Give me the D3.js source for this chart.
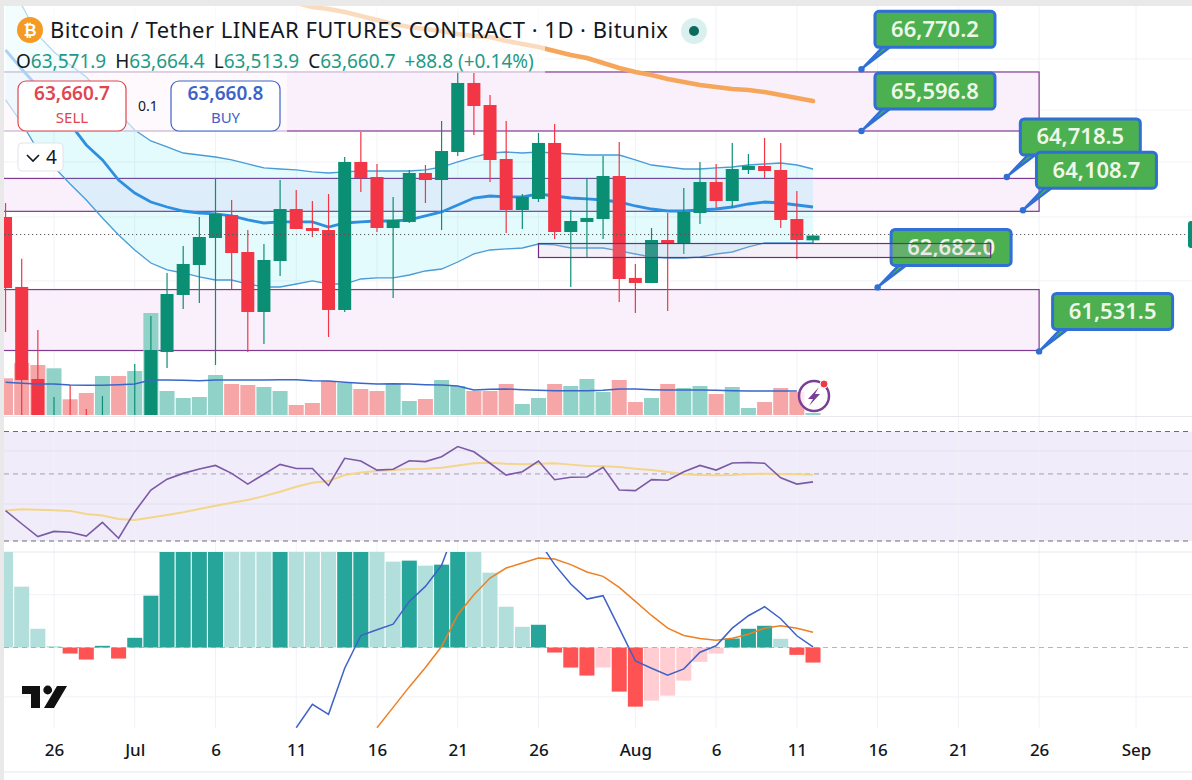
<!DOCTYPE html>
<html>
<head>
<meta charset="utf-8">
<script src="https://cdn.jsdelivr.net/npm/d3@7"></script>
<style>
html, body { margin: 0; padding: 0; background: #fff; overflow: hidden; }
text { font-family: "Noto Sans", sans-serif; }
</style>
</head>
<body>
<div id="chart"></div>
<script>
// one entry per day, 23 Jun to 12 Aug
var firstDay = '2025-06-23', lastDay = '2025-08-12';

var open = [64004,62708,61004,59000,59600,59800,59400,60000,
  59700,60100,61504,62560,63115,63615,64041,63356,62245,63189,64152,63800,63763,62282,65023,64745,63800,63912,64819,64689,65208,66486,66078,65078,64134,64338,65375,63726,63912,63967,64763,
  62875,62782,63578,63504,64078,64652,64300,64875,64949,64875,63967,63571.9];
var high = [64263,63232,61911,60671,60893,60448,60689,60100,
  61282,62171,62967,63467,64004,64726,64319,63763,63504,64689,64504,64300,64430,65115,65578,64986,64375,64875,64967,65782,66689,66671,66264,65782,64430,65560,65727,64134,64726,65134,65393,
  63134,63800,64078,64541,65023,64986,65375,65171,65467,65375,64486,63664.4];
var low = [61874,60000,59500,58500,58800,59000,59000,59300,
  59400,59900,61208,62300,62411,61263,62671,61504,61652,62911,63782,63634,61782,62245,64467,63726,62504,63893,64263,63763,65134,65523,64652,63708,63782,64282,63597,62708,63263,63597,62430,
  62226,62782,62263,63319,63875,64171,64171,64801,64726,63800,63226,63513.9];
var close = [62689,60986,60000,59300,59300,59500,60000,59700,
  60100,61541,62578,63134,63634,64060,63337,62245,63208,64152,63782,63745,62282,65023,64726,63800,63949,64819,64689,65226,66486,66060,65060,64134,64375,65375,63726,63930,63986,64763,62856,
  62782,63578,63504,64097,64652,64300,64893,64949,64856,63949,63578,63660.7];

var volume = [3670,5200,5000,4670,1570,2200,3900,3900,
  4400,10200,2400,1700,1800,4000,3100,3000,2800,2400,1000,1200,3400,3200,2600,2400,3100,1400,1600,3500,2900,2400,2400,3100,1100,1700,3100,2900,3600,2300,3500,
  1300,1700,3100,2700,2900,2100,2800,700,1300,2700,2300,200];
var volumeMa = [3267,3167,3100,3100,3000,2967,2967,3033,
  3100,3500,3500,3467,3433,3500,3500,3500,3500,3533,3533,3433,3400,3267,3167,3100,3133,3100,3033,3000,2900,2500,2567,2600,2533,2467,2433,2433,2433,2467,2600,
  2600,2533,2500,2500,2500,2467,2433,2400,2400,2400,2400];

var bandUpper = [68449,67930,67375,67060,66819,66597,66264,65930,
  65615,65412,65301,65189,65152,65115,65060,64986,64912,64893,64875,64838,64819,64838,64856,64856,64856,64856,64875,64930,65023,65115,65189,65208,65189,65208,65189,65171,65152,65152,65152,
  65060,64967,64930,64893,64893,64912,64930,64967,64986,65004,64967,64893];
var bandBasis = [67097,66745,66412,66060,65727,65338,65060,64689,
  64449,64282,64189,64115,64078,64060,64023,63949,63893,63912,63912,63912,63819,63893,63912,63930,63930,63949,64023,64097,64226,64356,64393,64375,64375,64430,64393,64356,64338,64319,64282,
  64208,64152,64115,64115,64134,64152,64189,64245,64282,64263,64226,64189];
var bandLower = [66171,65745,65245,64930,64615,64319,63986,63671,
  63393,63152,63023,62967,62893,62837,62837,62763,62708,62708,62763,62819,62763,62763,62856,62875,62875,62930,63004,63041,63171,63319,63393,63412,63430,63504,63486,63430,63430,63430,63375,
  63319,63263,63245,63245,63263,63319,63356,63449,63523,63523,63523,63523];

// long average only shows from 11 Jul
var slowMa = [67967,67893,67856,67801,67727,67653,67578,67523,67486,67449,67393,67356,67338,67264,67208,67153,67078,67004,66949,66856,66764,
  66690,66634,66560,66504,66449,66412,66375,66356,66319,66264,66208,66153];

var rsi = [41.1,36.3,31.6,33.5,33.2,31.8,36.8,31.0,
  40.7,48.6,52.6,54.7,56.3,57.6,54.7,50.8,54.4,58.0,56.5,56.5,50.3,60.2,59.2,55.9,56.2,59.3,59.0,60.8,64.5,62.6,58.4,54.1,55.3,59.2,52.4,53.3,53.4,56.9,48.6,
  48.4,52.4,52.2,55.3,57.6,55.9,58.5,58.7,58.4,53.1,50.8,51.6];
var rsiMa = [41.1,41.6,41.4,41.2,41.0,39.9,39.3,38.0,
  37.7,38.6,39.5,40.5,41.7,42.9,44.0,45.0,46.4,48.0,49.8,51.3,51.9,54.1,55.0,55.6,55.9,56.3,56.4,56.8,57.6,58.4,58.6,58.2,58.0,58.2,58.4,57.9,57.4,57.3,57.0,
  56.4,55.9,55.2,54.4,54.1,54.0,54.1,54.5,54.6,54.5,54.4,54.2];
var rsiLevels = [70, 54.5, 30];

var macdHist = [110,60.7,18.7,1.3,-6,-12,1.7,-11,
  9.7,51.7,110,125,135,145,140,125,110,118,115,105,98,102,110,100,85.7,86.7,81.7,82.7,96,95.5,74.7,40.7,20.7,22.7,-5,-20,-28,-20,-44,
  -59,-53,-48,-33,-14.3,-6,9,18.7,21.7,8.7,-7.3,-15];
// macd line from 11 Jul, signal line from 16 Jul
var macdLine = [-80,-56.7,-66.7,-20.7,12,17.7,23.3,46,61,82,125,150,145,135,120,107,82.7,63.3,48.3,51.7,19.3,
  -13.3,-20.7,-27.7,-21.3,-4.7,1.7,19.3,31.7,40.7,28.7,11.7,0.7];
var macdSignal = [-80,-59.7,-39.3,-20,1,32.7,52.7,69.3,79.3,84.3,89.3,88.3,82.7,75.3,71,60,
  46,32,19.3,12,9,7.3,9.3,13.3,19.3,21.7,19.3,15.3];

// x axis
var tickDays = ['2025-06-26','2025-07-01','2025-07-06','2025-07-11','2025-07-16','2025-07-21','2025-07-26','2025-08-01','2025-08-06','2025-08-11','2025-08-16','2025-08-21','2025-08-26','2025-09-01'];
var tickLabels = ['26','Jul','6','11','16','21','26','Aug','6','11','16','21','26','Sep'];

// supply and demand boxes, price low / high as they sit on the picture
var zoneLow = [65596.8, 64108.7, 61531.5];
var zoneHigh = [66690, 64718.5, 62660];
var smallZone = [63254, 63513];
var smallZoneDays = ['2025-07-26', '2025-08-23'];
var zoneEndDay = '2025-08-26';

var calloutPrices = [66740, 65596.8, 64745, 64130, 62700, 61515];
var calloutDays = ['2025-08-15','2025-08-15','2025-08-24','2025-08-25','2025-08-16','2025-08-26'];
var calloutLabels = ['66,770.2','65,596.8','64,718.5','64,108.7','62,682.0','61,531.5'];

var priceGrid = [66930, 65985, 65025, 64005, 62820];
var rsiGrid = [62.9, 43.5];
var macdGrid = [52.7, -49.3];

var w = 1192, h = 780,
    left = 4,
    upColor = '#0b8f74',
    downColor = '#f23645',
    font = '"Noto Sans", sans-serif';

var parse = d3.utcParse('%Y-%m-%d');
var days = d3.utcDay.range(parse(firstDay), d3.utcDay.offset(parse(lastDay), 1));
var idx = d3.range(days.length);

var x = d3.scaleUtc().domain([parse('2025-06-26'), parse('2025-09-01')]).range([54, 1136]);
var y = d3.scaleLinear().domain([61531.5, 65596.8]).range([350.5, 131]);
var yVol = d3.scaleLinear().domain([0, 10200]).range([415, 313]);
var yRsi = d3.scaleLinear().domain([30, 70]).range([541, 431.5]);
var yMacd = d3.scaleLinear().domain([-80, 95.3]).range([727.7, 552]);

var svg = d3.select('#chart').append('svg')
    .attr('width', w)
    .attr('height', h)
    .style('display', 'block');

// clip areas for the panes
var defs = svg.append('defs');
defs.append('clipPath').attr('id', 'mainClip').append('rect')
    .attr('x', left).attr('y', 6).attr('width', w - left).attr('height', 409);
defs.append('clipPath').attr('id', 'macdClip').append('rect')
    .attr('x', left).attr('y', 552).attr('width', w - left).attr('height', 176);

// window frame
svg.append('rect').attr('width', w).attr('height', 6).attr('fill', '#e9e9e9');
svg.append('rect').attr('width', left).attr('height', h).attr('fill', '#e9e9e9');

// rsi background
svg.append('rect')
    .attr('x', left).attr('y', yRsi(70))
    .attr('width', w - left).attr('height', yRsi(30) - yRsi(70))
    .attr('fill', '#f1ecf9');

// grid
var grid = svg.append('g').attr('stroke', '#f0f2f7').attr('stroke-width', 1);
grid.selectAll('.vg').data(tickDays).enter().append('line')
    .attr('x1', function(d){ return x(parse(d)); })
    .attr('x2', function(d){ return x(parse(d)); })
    .attr('y1', 6).attr('y2', 728);
grid.selectAll('.hg').data(priceGrid).enter().append('line')
    .attr('x1', left).attr('x2', w)
    .attr('y1', function(d){ return y(d); })
    .attr('y2', function(d){ return y(d); });
grid.selectAll('.rg').data(rsiGrid).enter().append('line')
    .attr('x1', left).attr('x2', w)
    .attr('y1', function(d){ return yRsi(d); })
    .attr('y2', function(d){ return yRsi(d); })
    .attr('stroke', '#e4e0ee');
grid.selectAll('.mg').data(macdGrid).enter().append('line')
    .attr('x1', left).attr('x2', w)
    .attr('y1', function(d){ return yMacd(d); })
    .attr('y2', function(d){ return yMacd(d); });

var main = svg.append('g').attr('clip-path', 'url(#mainClip)');

// big boxes
main.selectAll('.zone').data(zoneLow).enter().append('rect')
    .attr('x', left - 2)
    .attr('y', function(d, i){ return y(zoneHigh[i]); })
    .attr('width', x(parse(zoneEndDay)) - left + 2)
    .attr('height', function(d, i){ return y(d) - y(zoneHigh[i]); })
    .attr('fill', '#f9f0fb')
    .attr('stroke', '#7f3a92')
    .attr('stroke-width', 1.2);

// bollinger fill
var band = d3.area()
    .x(function(d){ return x(days[d]); })
    .y0(function(d){ return y(bandLower[d]); })
    .y1(function(d){ return y(bandUpper[d]); });
main.append('path').datum(idx)
    .attr('d', band)
    .attr('fill', 'rgb(0,215,235)')
    .attr('opacity', 0.11);

// volume, under the candles
main.selectAll('.vol').data(idx).enter().append('rect')
    .attr('x', function(d){ return x(days[d]) - 7.5; })
    .attr('y', function(d){ return yVol(volume[d]); })
    .attr('width', 15)
    .attr('height', function(d){ return 415 - yVol(volume[d]); })
    .attr('fill', function(d){ return close[d] >= open[d] ? '#90d2c8' : '#f7a6a8'; });

// lines over the fill
function priceLine(arr, stroke, width) {
    var line = d3.line()
        .x(function(d, i){ return x(days[i]); })
        .y(function(d){ return y(d); });
    main.append('path').datum(arr)
        .attr('d', line)
        .attr('fill', 'none')
        .attr('stroke', stroke)
        .attr('stroke-width', width);
}
priceLine(bandUpper, '#4a9bd6', 1.3);
priceLine(bandLower, '#4a9bd6', 1.3);
priceLine(bandBasis, '#2e8fe0', 2.8);

// slow average
var slowLine = d3.line()
    .x(function(d, i){ return x(days[i + 18]); })
    .y(function(d){ return y(d); });
main.append('path').datum(slowMa)
    .attr('d', slowLine)
    .attr('fill', 'none')
    .attr('stroke', '#f6a65a')
    .attr('stroke-width', 4.5)
    .attr('stroke-linecap', 'round');

// candles
main.selectAll('.wick').data(idx).enter().append('line')
    .attr('x1', function(d){ return x(days[d]); })
    .attr('x2', function(d){ return x(days[d]); })
    .attr('y1', function(d){ return y(high[d]); })
    .attr('y2', function(d){ return y(low[d]); })
    .attr('stroke', function(d){ return close[d] >= open[d] ? upColor : downColor; })
    .attr('stroke-width', 1.2);
main.selectAll('.body').data(idx).enter().append('rect')
    .attr('x', function(d){ return x(days[d]) - 6.5; })
    .attr('y', function(d){ return y(Math.max(open[d], close[d])); })
    .attr('width', 13)
    .attr('height', function(d){ return Math.abs(y(open[d]) - y(close[d])); })
    .attr('fill', function(d){ return close[d] >= open[d] ? upColor : downColor; });

// volume average
var volLine = d3.line()
    .x(function(d, i){ return x(days[i]); })
    .y(function(d){ return yVol(d); });
main.append('path').datum(volumeMa)
    .attr('d', volLine)
    .attr('fill', 'none')
    .attr('stroke', '#3a66c8')
    .attr('stroke-width', 1.5);

// current price line and tag
var lastClose = close[close.length - 1];
svg.append('line')
    .attr('x1', left).attr('x2', 1188)
    .attr('y1', y(lastClose) - 1).attr('y2', y(lastClose) - 1)
    .attr('stroke', '#555')
    .attr('stroke-dasharray', '1.2 2.8');
svg.append('rect')
    .attr('x', 1188).attr('y', y(lastClose) - 14.5)
    .attr('width', 12).attr('height', 27).attr('rx', 3)
    .attr('fill', '#0b8f74');

// legend sits on a see-through white panel
svg.append('rect').attr('x', left).attr('y', 6).attr('width', 541).attr('height', 67).attr('fill', '#fff').attr('opacity', 0.6);
svg.append('rect').attr('x', left).attr('y', 73).attr('width', 283).attr('height', 59).attr('fill', '#fff').attr('opacity', 0.6);

svg.append('circle').attr('cx', 30).attr('cy', 30).attr('r', 13).attr('fill', '#f59a23');
svg.append('text').attr('x', 30).attr('y', 36).attr('text-anchor', 'middle')
    .attr('fill', '#fff').style('font-family', '"DejaVu Sans", sans-serif').style('font-size', '16px').style('font-weight', 700).text('₿');
svg.append('text').attr('x', 50).attr('y', 38)
    .attr('fill', '#131722').style('font-size', '22px')
    .attr('textLength', 618)
    .attr('lengthAdjust', 'spacing')
    .text('Bitcoin / Tether LINEAR FUTURES CONTRACT · 1D · Bitunix');
svg.append('circle').attr('cx', 694).attr('cy', 31).attr('r', 13).attr('fill', '#d9f0ee');
svg.append('circle').attr('cx', 694).attr('cy', 31).attr('r', 5).attr('fill', '#0b6b5e');

var ohlc = svg.append('text').attr('x', 16).attr('y', 68).style('font-size', '19px');
var ohlcParts = [['O','63,571.9'],['H','63,664.4'],['L','63,513.9'],['C','63,660.7']];
ohlcParts.forEach(function(p, i){
    ohlc.append('tspan').attr('fill', '#131722').attr('dx', i ? 9 : 0).text(p[0]);
    ohlc.append('tspan').attr('fill', '#1f9a85').text(p[1]);
});
ohlc.append('tspan').attr('fill', '#1f9a85').attr('dx', 9).text('+88.8 (+0.14%)');

// sell and buy buttons
function button(bx, color, price, label, bw) {
    svg.append('rect').attr('x', bx).attr('y', 81).attr('width', bw).attr('height', 50).attr('rx', 8)
        .attr('fill', '#fff').attr('stroke', color).attr('stroke-width', 1.2);
    svg.append('text').attr('x', bx + bw / 2).attr('y', 100).attr('text-anchor', 'middle')
        .attr('fill', color).style('font-size', '19px').style('font-weight', 600).text(price);
    svg.append('text').attr('x', bx + bw / 2).attr('y', 123).attr('text-anchor', 'middle')
        .attr('fill', color).style('font-size', '15px').text(label);
}
button(18, '#e0464f', '63,660.7', 'SELL', 108);
button(171, '#3f62c8', '63,660.8', 'BUY', 109);
svg.append('text').attr('x', 148).attr('y', 111).attr('text-anchor', 'middle')
    .attr('fill', '#131722').style('font-size', '14px').text('0.1');

// collapse button
svg.append('rect').attr('x', 18).attr('y', 143).attr('width', 45).attr('height', 28).attr('rx', 4)
    .attr('fill', '#fff').attr('stroke', '#e0e3eb');
svg.append('path').attr('d', 'M27 155 L33 161 L39 155').attr('fill', 'none').attr('stroke', '#131722').attr('stroke-width', 1.6);
svg.append('text').attr('x', 46).attr('y', 164).attr('fill', '#131722').style('font-size', '19px').text('4');

// callouts
var callouts = svg.selectAll('.callout').data(calloutPrices).enter().append('g')
    .attr('transform', function(d, i){ return 'translate(' + x(parse(calloutDays[i])) + ',' + y(d) + ')'; });
callouts.append('path')
    .attr('d', 'M2 -2 L23 -24 L31 -24 Z')
    .attr('fill', '#4caf50')
    .attr('stroke', '#2f6fd6')
    .attr('stroke-width', 2.5);
callouts.append('circle').attr('r', 3.2).attr('fill', '#2f6fd6');
callouts.append('rect')
    .attr('x', 13.5).attr('y', -58).attr('width', 120).attr('height', 36).attr('rx', 4)
    .attr('fill', '#4caf50')
    .attr('stroke', '#2f6fd6')
    .attr('stroke-width', 3);
callouts.append('text')
    .attr('x', 73.5).attr('y', -32.5)
    .attr('text-anchor', 'middle')
    .attr('fill', '#eef8ea')
    .style('font-size', '22px')
    .style('font-weight', 600)
    .text(function(d, i){ return calloutLabels[i]; });

// small box is on top of the 62,682 callout
svg.append('rect')
    .attr('x', x(parse(smallZoneDays[0])))
    .attr('y', y(smallZone[1]))
    .attr('width', x(parse(smallZoneDays[1])) - x(parse(smallZoneDays[0])))
    .attr('height', y(smallZone[0]) - y(smallZone[1]))
    .attr('fill', 'rgb(205,180,215)')
    .attr('fill-opacity', 0.2)
    .attr('stroke', '#6c2f86')
    .attr('stroke-width', 1.2);

// alert icon
var icon = svg.append('g').attr('transform', 'translate(814,396)');
icon.append('circle').attr('r', 15).attr('fill', '#fff').attr('fill-opacity', 0.75)
    .attr('stroke', '#7b3f98').attr('stroke-width', 2.5);
icon.append('path').attr('d', 'M5 -9 L-6 3 L-1 3 L-5 10 L6 -2 L1 -2 Z').attr('fill', '#7b3f98');
icon.append('circle').attr('cx', 10).attr('cy', -12).attr('r', 4).attr('fill', '#ee3a43').attr('stroke', '#fff');

// pane separators
svg.selectAll('.sep').data([416.5, 552, 772]).enter().append('line')
    .attr('x1', left).attr('x2', w)
    .attr('y1', function(d){ return d; })
    .attr('y2', function(d){ return d; })
    .attr('stroke', '#e6e8ee');

// rsi
svg.selectAll('.level').data(rsiLevels).enter().append('line')
    .attr('x1', left).attr('x2', w)
    .attr('y1', function(d){ return yRsi(d); })
    .attr('y2', function(d){ return yRsi(d); })
    .attr('stroke', function(d, i){ return i == 1 ? '#a79fb8' : '#6a6d78'; })
    .attr('stroke-dasharray', '5 4');
var rsiPath = d3.line()
    .x(function(d, i){ return x(days[i]); })
    .y(function(d){ return yRsi(d); });
svg.append('path').datum(rsiMa).attr('d', rsiPath)
    .attr('fill', 'none').attr('stroke', '#f2d68a').attr('stroke-width', 2);
svg.append('path').datum(rsi).attr('d', rsiPath)
    .attr('fill', 'none').attr('stroke', '#7a5aa6').attr('stroke-width', 1.6);

// macd
var macd = svg.append('g').attr('clip-path', 'url(#macdClip)');
macd.selectAll('.hist').data(idx).enter().append('rect')
    .attr('x', function(d){ return x(days[d]) - 7.5; })
    .attr('y', function(d){ return Math.min(yMacd(0), yMacd(macdHist[d])); })
    .attr('width', 15)
    .attr('height', function(d){ return Math.abs(yMacd(macdHist[d]) - yMacd(0)); })
    .attr('fill', function(d){
        var v = macdHist[d], prev = d ? macdHist[d - 1] : Infinity;
        if (v >= 0) return v > prev ? '#26a69a' : '#b2dfdb';
        return v < prev ? '#ff5252' : '#ffcdd2';
    });
svg.append('line')
    .attr('x1', left).attr('x2', w)
    .attr('y1', yMacd(0)).attr('y2', yMacd(0))
    .attr('stroke', '#9598a1')
    .attr('stroke-dasharray', '5 4')
    .attr('opacity', 0.7);

var macdPath = d3.line()
    .x(function(d, i){ return x(days[i + 18]); })
    .y(function(d){ return yMacd(d); });
var signalPath = d3.line()
    .x(function(d, i){ return x(days[i + 23]); })
    .y(function(d){ return yMacd(d); });
macd.append('path').datum(macdSignal).attr('d', signalPath)
    .attr('fill', 'none').attr('stroke', '#ef7f24').attr('stroke-width', 1.5);
macd.append('path').datum(macdLine).attr('d', macdPath)
    .attr('fill', 'none').attr('stroke', '#3f62c8').attr('stroke-width', 1.5);

// tradingview mark
svg.append('path')
    .attr('d', 'M22 686 H40 V708 H31 V694 H22 Z M67 686 L54 708 H44 L57 686 Z')
    .attr('fill', '#111');
svg.append('circle').attr('cx', 47.7).attr('cy', 690).attr('r', 4.4).attr('fill', '#111');

// x axis
var axis = d3.axisBottom(x)
    .tickValues(tickDays.map(parse))
    .tickFormat(function(d, i){ return tickLabels[i]; })
    .tickSize(0)
    .tickPadding(0);
var axisG = svg.append('g').attr('transform', 'translate(0,744)').call(axis);
axisG.select('.domain').remove();
axisG.selectAll('text')
    .attr('fill', '#131722')
    .style('font-family', font)
    .style('font-size', '17px')
    .style('font-weight', 500);
</script>
</body>
</html>
